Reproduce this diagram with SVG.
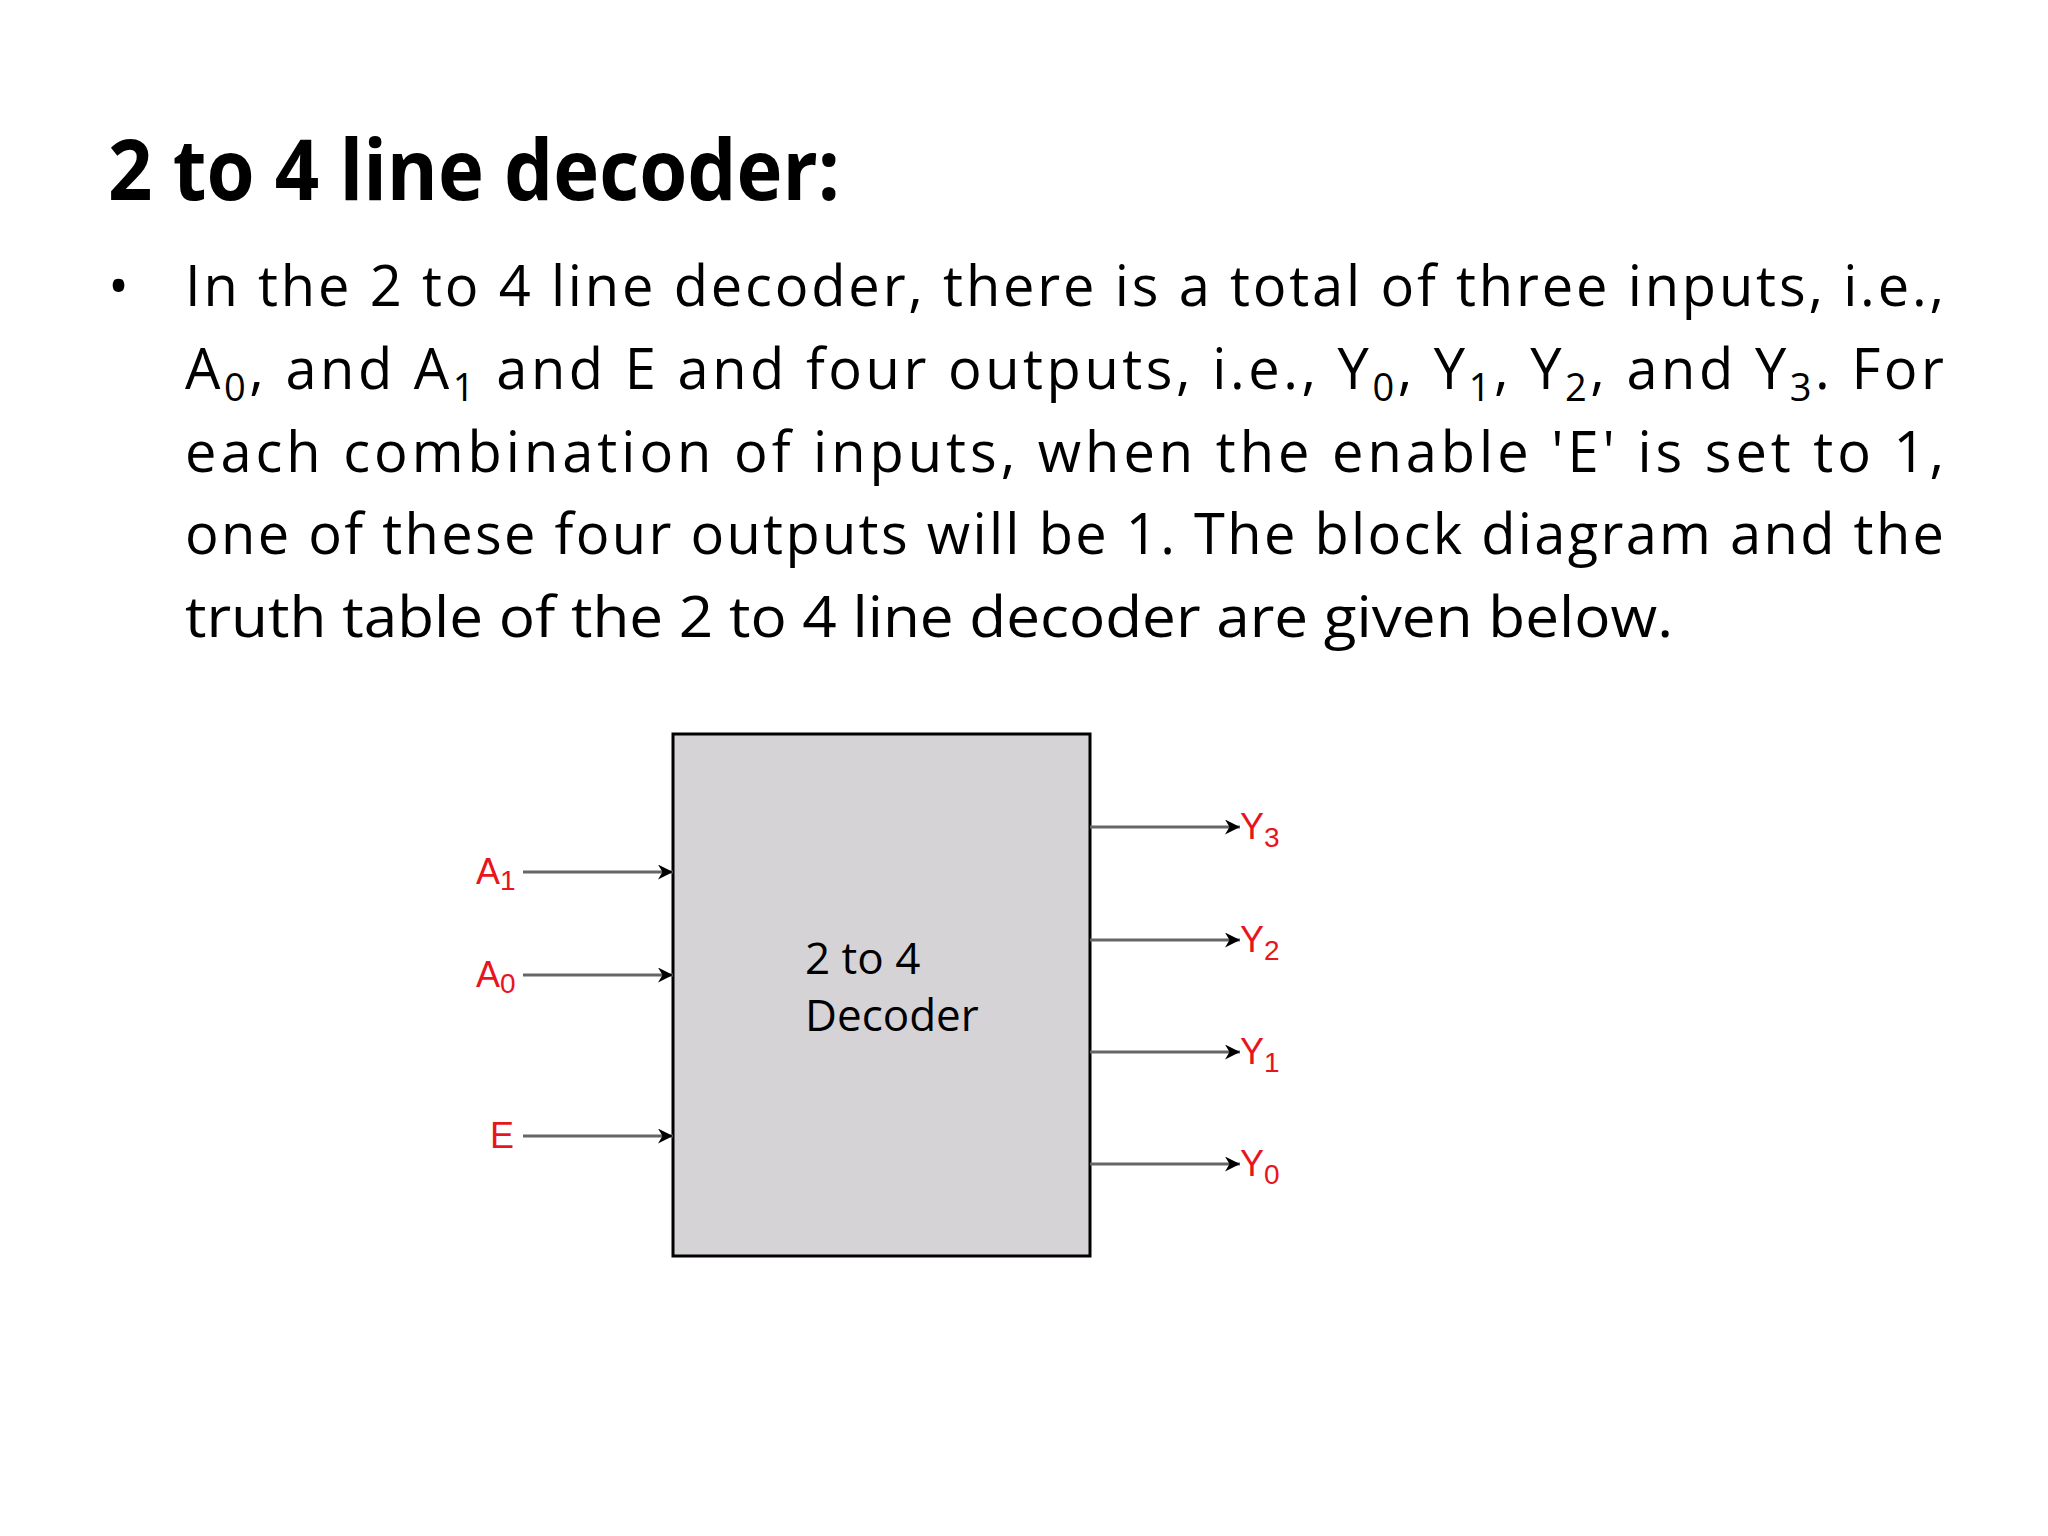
<svg xmlns="http://www.w3.org/2000/svg" width="2048" height="1536" viewBox="0 0 2048 1536">
<style>
.t{font-family:"Open Sans","Noto Sans",sans-serif;fill:#000}
.b{font-size:56px}
.l{font-family:"Liberation Sans",Arial,sans-serif;font-size:36px;fill:#e8141e}
.c{stroke:#666;stroke-width:3;fill:none;marker-end:url(#ah)}
</style>
<defs><marker id="ah" viewBox="0 0 10 10" refX="10" refY="5" markerWidth="5" markerHeight="5" orient="auto" markerUnits="strokeWidth"><path d="M0,0 L10,5 L0,10 L3,5 z" fill="#000"/></marker></defs>
<rect width="2048" height="1536" fill="#fff"/>
<text class="t" x="108" y="200" font-size="84" font-weight="bold" textLength="732" lengthAdjust="spacingAndGlyphs">2 to 4 line decoder:</text>
<text class="t b" x="108" y="306">•</text>
<text class="t b" x="185" y="306" textLength="1759" lengthAdjust="spacing">In the 2 to 4 line decoder, there is a total of three inputs, i.e.,</text>
<text class="t b" x="185" y="389" textLength="1759" lengthAdjust="spacing">A<tspan font-size="38" dy="12">0</tspan><tspan dy="-12">, and A</tspan><tspan font-size="38" dy="12">1</tspan><tspan dy="-12"> and E and four outputs, i.e., Y</tspan><tspan font-size="38" dy="12">0</tspan><tspan dy="-12">, Y</tspan><tspan font-size="38" dy="12">1</tspan><tspan dy="-12">, Y</tspan><tspan font-size="38" dy="12">2</tspan><tspan dy="-12">, and Y</tspan><tspan font-size="38" dy="12">3</tspan><tspan dy="-12">. For</tspan></text>
<text class="t b" x="185" y="472" textLength="1759" lengthAdjust="spacing">each combination of inputs, when the enable 'E' is set to 1,</text>
<text class="t b" x="185" y="554" textLength="1759" lengthAdjust="spacing">one of these four outputs will be 1. The block diagram and the</text>
<text class="t b" x="185" y="637" textLength="1488" lengthAdjust="spacingAndGlyphs">truth table of the 2 to 4 line decoder are given below.</text>
<g id="decoder">
<rect x="673" y="734" width="417" height="522" fill="#d6d3d6" stroke="#000" stroke-width="3"/>
<text class="t" x="805" y="974" font-size="44">2 to 4</text>
<text class="t" x="805" y="1031" font-size="44">Decoder</text>
</g>
<g id="A1"><text class="l" x="476" y="884">A<tspan font-size="28" dy="6">1</tspan></text></g>
<g id="A0"><text class="l" x="476" y="987">A<tspan font-size="28" dy="6">0</tspan></text></g>
<g id="E"><text class="l" x="490" y="1148">E</text></g>
<g id="Y3"><text class="l" x="1240" y="839">Y<tspan font-size="28" dy="8">3</tspan></text></g>
<g id="Y2"><text class="l" x="1240" y="952">Y<tspan font-size="28" dy="8">2</tspan></text></g>
<g id="Y1"><text class="l" x="1240" y="1064">Y<tspan font-size="28" dy="8">1</tspan></text></g>
<g id="Y0"><text class="l" x="1240" y="1176">Y<tspan font-size="28" dy="8">0</tspan></text></g>
<g id="connectors">
<line class="c" x1="523" y1="872" x2="673" y2="872"/>
<line class="c" x1="523" y1="975" x2="673" y2="975"/>
<line class="c" x1="523" y1="1136" x2="673" y2="1136"/>
<line class="c" x1="1090" y1="827" x2="1240" y2="827"/>
<line class="c" x1="1090" y1="940" x2="1240" y2="940"/>
<line class="c" x1="1090" y1="1052" x2="1240" y2="1052"/>
<line class="c" x1="1090" y1="1164" x2="1240" y2="1164"/>
</g>
</svg>
